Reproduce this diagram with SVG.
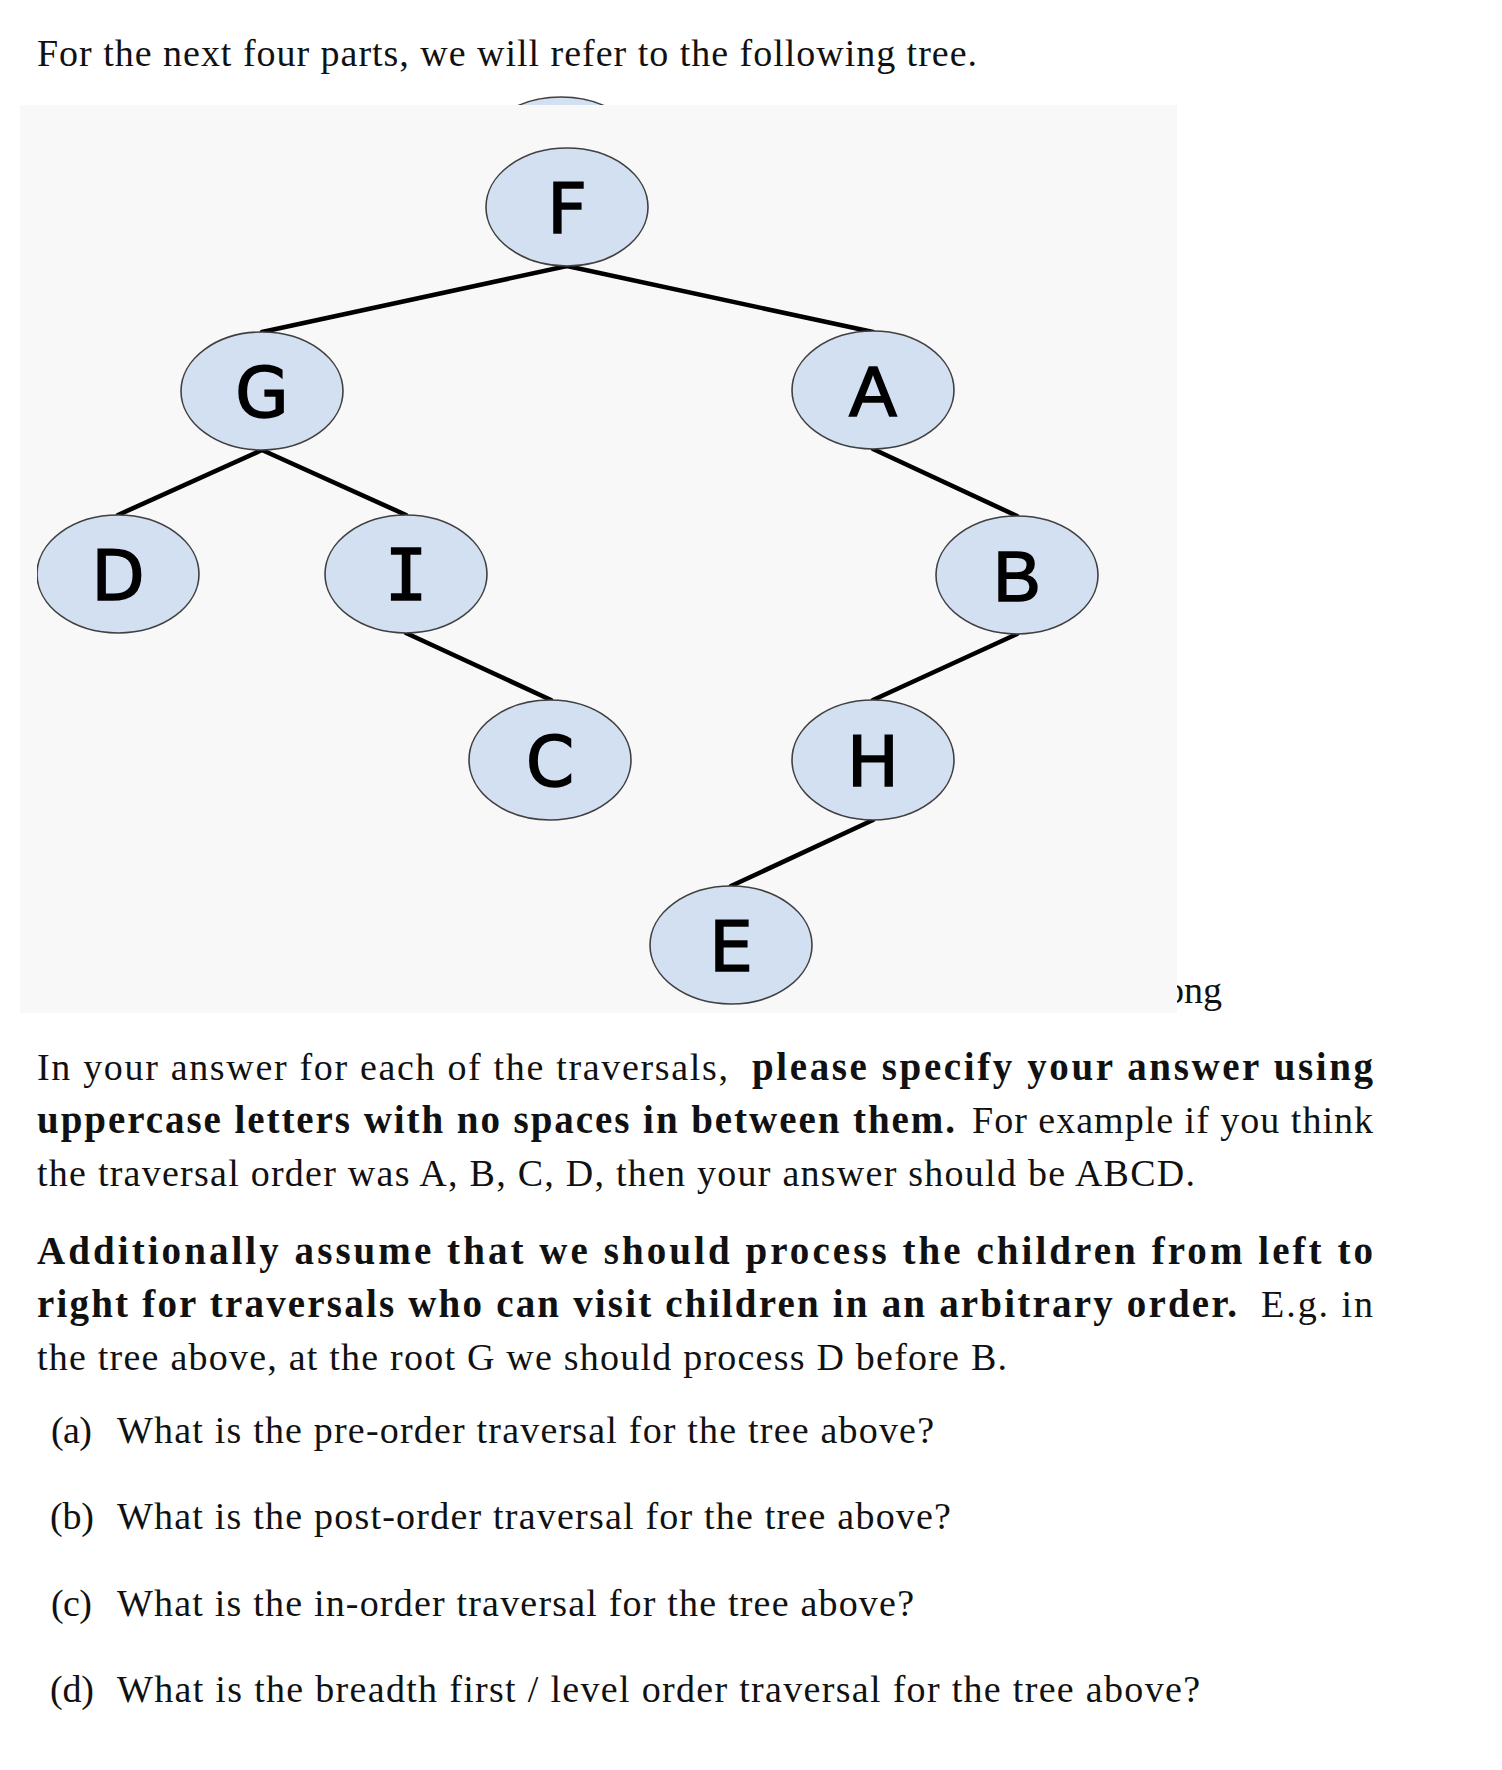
<svg xmlns="http://www.w3.org/2000/svg" width="1502" height="1770" viewBox="0 0 1502 1770">
<style>
.t{font-family:"Liberation Serif","Times New Roman",serif;font-size:38px;fill:#111}
.b{font-family:"Liberation Serif","Times New Roman",serif;font-size:39px;font-weight:bold;fill:#111}
.node ellipse{fill:#d2e0f1;stroke:#404040;stroke-width:1.6}
.lbl{font-family:"DejaVu Sans","Verdana",sans-serif;font-size:69px;fill:#000;stroke:#000;stroke-width:1.6;text-anchor:middle}
.lbl2{font-family:"Liberation Sans","Arial",sans-serif;font-size:71px;fill:#000;stroke:#000;stroke-width:1.6;text-anchor:middle}
.lblm{font-family:"DejaVu Sans Mono",monospace;font-size:71px;fill:#000;stroke:#000;stroke-width:1.6;text-anchor:middle}
.edge{stroke:#000;stroke-width:4.6;stroke-linecap:round;fill:none}
</style>
<defs>
<clipPath id="topclip"><rect x="0" y="0" width="1502" height="105"/></clipPath>
<clipPath id="dclip"><rect x="37" y="0" width="1465" height="1770"/></clipPath>
</defs>
<rect width="1502" height="1770" fill="#fff"/>
<text class="t" x="37" y="66" textLength="940" lengthAdjust="spacing">For the next four parts, we will refer to the following tree.</text>
<text class="t" x="1222" y="1003" text-anchor="end">ong</text>
<g id="panel">
<ellipse cx="561" cy="156" rx="82" ry="59" fill="#d2e0f1" stroke="#404040" stroke-width="1.6" clip-path="url(#topclip)"/>
<rect x="20" y="105" width="1157" height="908" fill="#f8f8f8"/>
</g>
<g id="connectors">
<line class="edge" x1="567" y1="266" x2="262" y2="332"/>
<line class="edge" x1="567" y1="266" x2="873" y2="332"/>
<line class="edge" x1="262" y1="450" x2="118" y2="515"/>
<line class="edge" x1="262" y1="450" x2="406" y2="515"/>
<line class="edge" x1="873" y1="449" x2="1017" y2="516"/>
<line class="edge" x1="406" y1="633" x2="551" y2="700"/>
<line class="edge" x1="1017" y1="634" x2="873" y2="700"/>
<line class="edge" x1="873" y1="820" x2="731" y2="886"/>
</g>
<g id="node-F" class="node"><ellipse cx="567" cy="207" rx="81" ry="59"/><text class="lbl" x="567" y="233">F</text></g>
<g id="node-G" class="node"><ellipse cx="262" cy="391" rx="81" ry="59"/><text class="lbl" x="262" y="417">G</text></g>
<g id="node-A" class="node"><ellipse cx="873" cy="390" rx="81" ry="59"/><text class="lbl2" x="873" y="416">A</text></g>
<g id="node-D" class="node"><ellipse cx="118" cy="574" rx="81" ry="59" clip-path="url(#dclip)"/><text class="lbl" x="118" y="600">D</text></g>
<g id="node-I" class="node"><ellipse cx="406" cy="574" rx="81" ry="59"/><text class="lblm" x="406" y="600">I</text></g>
<g id="node-B" class="node"><ellipse cx="1017" cy="575" rx="81" ry="59"/><text class="lbl2" x="1017" y="601">B</text></g>
<g id="node-C" class="node"><ellipse cx="550" cy="760" rx="81" ry="60"/><text class="lbl" x="550" y="786">C</text></g>
<g id="node-H" class="node"><ellipse cx="873" cy="760" rx="81" ry="60"/><text class="lbl" x="873" y="786">H</text></g>
<g id="node-E" class="node"><ellipse cx="731" cy="945" rx="81" ry="59"/><text class="lbl" x="731" y="971">E</text></g>
<text class="t" x="37" y="1080" textLength="691" lengthAdjust="spacing">In your answer for each of the traversals,</text>
<text class="b" x="752" y="1080" textLength="621" lengthAdjust="spacing">please specify your answer using</text>
<text class="b" x="37" y="1133" textLength="918" lengthAdjust="spacing">uppercase letters with no spaces in between them.</text>
<text class="t" x="972" y="1133" textLength="401" lengthAdjust="spacing">For example if you think</text>
<text class="t" x="37" y="1186" textLength="1158" lengthAdjust="spacing">the traversal order was A, B, C, D, then your answer should be ABCD.</text>
<text class="b" x="37" y="1264" textLength="1336" lengthAdjust="spacing">Additionally assume that we should process the children from left to</text>
<text class="b" x="37" y="1317" textLength="1200" lengthAdjust="spacing">right for traversals who can visit children in an arbitrary order.</text>
<text class="t" x="1261" y="1317" textLength="112" lengthAdjust="spacing">E.g. in</text>
<text class="t" x="37" y="1370" textLength="970" lengthAdjust="spacing">the tree above, at the root G we should process D before B.</text>
<text class="t" x="51" y="1443" textLength="41" lengthAdjust="spacing">(a)</text>
<text class="t" x="117" y="1443" textLength="817" lengthAdjust="spacing">What is the pre-order traversal for the tree above?</text>
<text class="t" x="50" y="1529" textLength="44" lengthAdjust="spacing">(b)</text>
<text class="t" x="117" y="1529" textLength="834" lengthAdjust="spacing">What is the post-order traversal for the tree above?</text>
<text class="t" x="51" y="1616" textLength="41" lengthAdjust="spacing">(c)</text>
<text class="t" x="117" y="1616" textLength="797" lengthAdjust="spacing">What is the in-order traversal for the tree above?</text>
<text class="t" x="50" y="1702" textLength="44" lengthAdjust="spacing">(d)</text>
<text class="t" x="117" y="1702" textLength="1083" lengthAdjust="spacing">What is the breadth first / level order traversal for the tree above?</text>
</svg>
